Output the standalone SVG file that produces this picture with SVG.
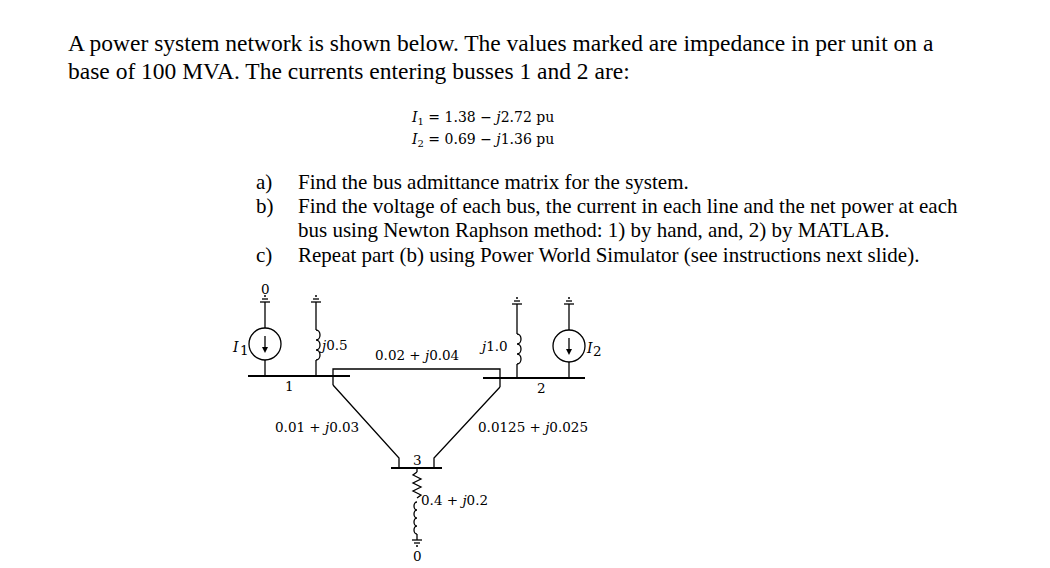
<svg xmlns="http://www.w3.org/2000/svg" width="1050" height="568" viewBox="0 0 1050 568">
<style>
.t{font-family:"Liberation Serif",serif;font-size:21px;fill:#000}
.p{font-family:"Liberation Serif",serif;font-size:23.5px;fill:#000}
.m{font-family:"DejaVu Serif",serif;font-size:14px;fill:#000}
.s{font-family:"DejaVu Serif",serif;font-size:13.5px;fill:#000}
.w{fill:none;stroke:#000;stroke-width:1.3}
.b{fill:none;stroke:#000;stroke-width:2}
</style>
<rect width="1050" height="568" fill="#fff"/>
<text class="p" x="68" y="51">A power system network is shown below. The values marked are impedance in per unit on a</text>
<text class="p" x="68" y="79">base of 100 MVA. The currents entering busses 1 and 2 are:</text>
<text class="m" x="412" y="122"><tspan font-style="italic">I</tspan><tspan font-size="10" dy="3">1</tspan><tspan dy="-3"> = 1.38 − </tspan><tspan font-style="italic">j</tspan>2.72 pu</text>
<text class="m" x="412" y="144"><tspan font-style="italic">I</tspan><tspan font-size="10" dy="3">2</tspan><tspan dy="-3"> = 0.69 − </tspan><tspan font-style="italic">j</tspan>1.36 pu</text>
<text class="t" x="256" y="189">a)</text><text class="t" x="298" y="189">Find the bus admittance matrix for the system.</text>
<text class="t" x="256" y="213">b)</text><text class="t" x="298" y="213">Find the voltage of each bus, the current in each line and the net power at each</text>
<text class="t" x="298" y="237">bus using Newton Raphson method: 1) by hand, and, 2) by MATLAB.</text>
<text class="t" x="256" y="262">c)</text><text class="t" x="298" y="262">Repeat part (b) using Power World Simulator (see instructions next slide).</text>
<g id="bus1"><line class="b" x1="248" y1="376" x2="350" y2="376"/><text class="s" x="285" y="391">1</text></g>
<g id="bus2"><line class="b" x1="483" y1="378" x2="585" y2="378"/><text class="s" x="537" y="393">2</text></g>
<g id="bus3"><line class="b" x1="391" y1="468" x2="442" y2="468"/><text class="s" x="413" y="465">3</text></g>
<g id="src1">
<line class="w" x1="265" y1="302" x2="265" y2="328"/><line class="w" x1="265" y1="360" x2="265" y2="376"/>
<line class="w" x1="260" y1="302" x2="270" y2="302"/><line class="w" x1="262" y1="299" x2="268" y2="299"/><line class="w" x1="264" y1="296" x2="266" y2="296"/>
<text class="s" x="261" y="294" font-size="11">0</text>
<circle class="w" cx="265" cy="344" r="16"/><line class="w" x1="265" y1="336" x2="265" y2="351"/><path d="M262,347 L265,353 L268,347Z"/>
<text class="m" x="233" y="352" font-style="italic">I</text><text class="s" x="240" y="355" font-size="10">1</text>
</g>
<g id="ind1">
<line class="w" x1="316" y1="302" x2="316" y2="330"/><line class="w" x1="316" y1="360" x2="316" y2="376"/>
<line class="w" x1="311" y1="302" x2="321" y2="302"/><line class="w" x1="313" y1="299" x2="319" y2="299"/><line class="w" x1="315" y1="296" x2="317" y2="296"/>
<path class="w" d="M316,330 a4,5 0 0 1 0,10 a4,5 0 0 1 0,10 a4,5 0 0 1 0,10"/>
<text class="s" x="322" y="350"><tspan font-style="italic">j</tspan>0.5</text>
</g>
<g id="ind2">
<line class="w" x1="517" y1="304" x2="517" y2="334"/><line class="w" x1="517" y1="364" x2="517" y2="378"/>
<line class="w" x1="512" y1="304" x2="522" y2="304"/><line class="w" x1="514" y1="301" x2="520" y2="301"/><line class="w" x1="516" y1="298" x2="518" y2="298"/>
<path class="w" d="M517,334 a4,5 0 0 1 0,10 a4,5 0 0 1 0,10 a4,5 0 0 1 0,10"/>
<text class="s" x="482" y="351"><tspan font-style="italic">j</tspan>1.0</text>
</g>
<g id="src2">
<line class="w" x1="569" y1="304" x2="569" y2="330"/><line class="w" x1="569" y1="362" x2="569" y2="378"/>
<line class="w" x1="564" y1="304" x2="574" y2="304"/><line class="w" x1="566" y1="301" x2="572" y2="301"/><line class="w" x1="568" y1="298" x2="570" y2="298"/>
<circle class="w" cx="569" cy="346" r="16"/><line class="w" x1="569" y1="338" x2="569" y2="353"/><path d="M566,349 L569,355 L572,349Z"/>
<text class="m" x="587" y="353" font-style="italic">I</text><text class="s" x="593" y="356" font-size="10">2</text>
</g>
<g id="load3">
<line class="w" x1="417" y1="468" x2="417" y2="472"/>
<path class="w" d="M417,472 l-4,3 l8,4 l-8,4 l8,4 l-8,4 l8,4 l-4,3"/>
<path class="w" d="M417,502 a3,4 0 0 0 0,8 a3,4 0 0 0 0,8 a3,4 0 0 0 0,8 a3,4 0 0 0 0,8"/>
<line class="w" x1="417" y1="534" x2="417" y2="540"/>
<line class="w" x1="412" y1="540" x2="422" y2="540"/><line class="w" x1="414" y1="543" x2="420" y2="543"/><line class="w" x1="416" y1="546" x2="418" y2="546"/>
<text class="s" x="413" y="561" font-size="12">0</text>
<text class="s" x="421" y="505">0.4 + <tspan font-style="italic">j</tspan>0.2</text>
</g>
<g id="connectors">
<polyline class="w" points="333,385 333,369 500,369 500,387"/>
<polyline class="w" points="333,385 399,458 399,468"/>
<polyline class="w" points="500,387 434,458 434,468"/>
<text class="s" x="375" y="360">0.02 + <tspan font-style="italic">j</tspan>0.04</text>
<text class="s" x="275" y="432">0.01 + <tspan font-style="italic">j</tspan>0.03</text>
<text class="s" x="478" y="432">0.0125 + <tspan font-style="italic">j</tspan>0.025</text>
</g>
</svg>
